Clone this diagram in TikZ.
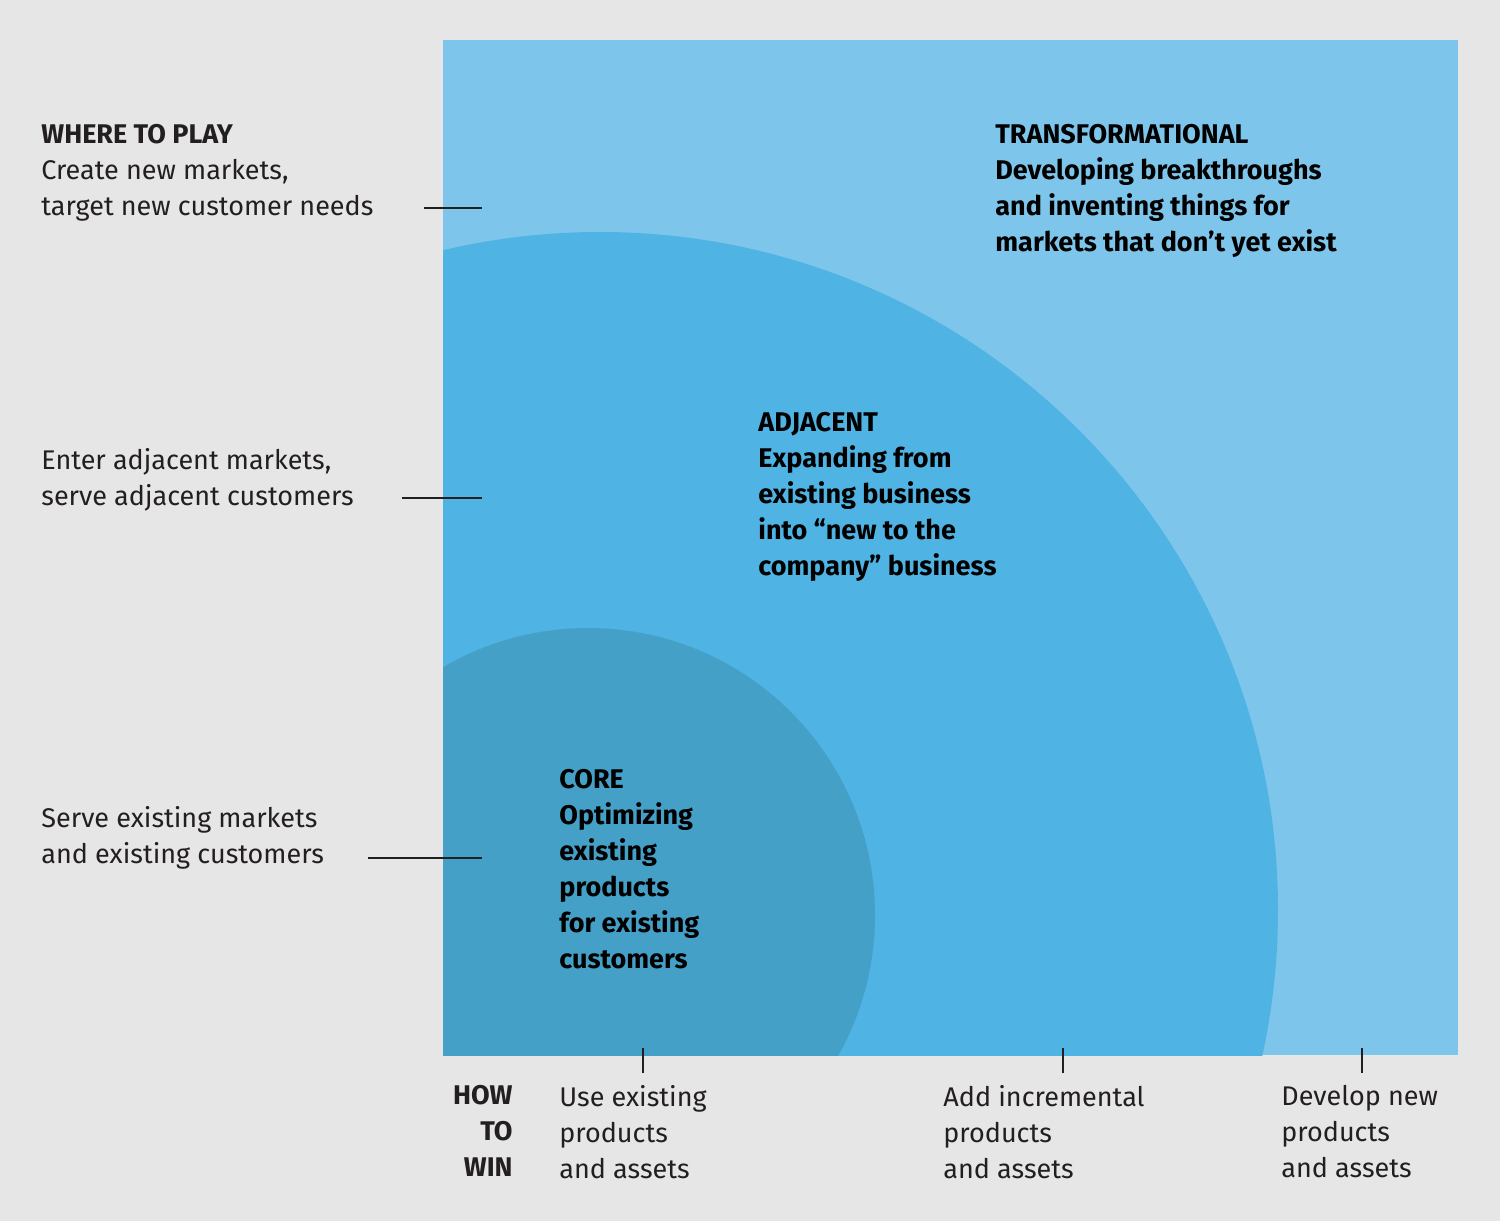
\documentclass[tikz,border=0pt]{standalone}
\usepackage{fontspec}
\setmainfont{Fira Sans}
\definecolor{bg}{HTML}{E6E6E6}
\definecolor{lb}{HTML}{7DC5EA}
\definecolor{mb}{HTML}{4FB3E3}
\definecolor{db}{HTML}{45A0C8}
\definecolor{tx}{HTML}{231F20}
\begin{document}
\begin{tikzpicture}[x=0.5pt,y=-0.5pt,
  lab/.style={anchor=north west,inner sep=0pt,align=left,text=tx,font=\fontsize{13.5pt}{18pt}\selectfont},
  blab/.style={lab,font=\fontsize{13.5pt}{18pt}\selectfont\bfseries,text=black},
  tick/.style={draw=tx,line width=0.6pt}]
\fill[bg] (0,0) rectangle (1500,1221);
\begin{scope}
\clip (443,40) rectangle (1458,1055);
\fill[lb] (443,40) rectangle (1458,1055);
\fill[mb] (600,910) circle[radius=678];
\fill[db] (588,915) circle[radius=287];
\end{scope}
\node[lab] (wp) at (41,124) {\textbf{WHERE TO PLAY}\\Create new markets,\\target new customer needs};
\node[lab] (ad) at (41,448) {Enter adjacent markets,\\serve adjacent customers};
\node[lab] (se) at (41,806) {Serve existing markets\\and existing customers};
\coordinate (t1) at (482,208); \coordinate (t2) at (482,498); \coordinate (t3) at (482,858);
\draw[tick] (424,208) -- (t1);
\draw[tick] (402,498) -- (t2);
\draw[tick] (368,858) -- (t3);
\node[blab] (tr) at (995,124) {TRANSFORMATIONAL\\Developing breakthroughs\\and inventing things for\\markets that don’t yet exist};
\node[blab] (adj) at (758,412) {ADJACENT\\Expanding from\\existing business\\into “new to the\\company” business};
\node[blab] (co) at (559,769) {CORE\\Optimizing\\existing\\products\\for existing\\customers};
\node[blab,anchor=north east,align=right,text=tx] (hw) at (513,1085) {HOW\\TO\\WIN};
\node[lab] (b1) at (559,1085) {Use existing\\products\\and assets};
\node[lab] (b2) at (943,1085) {Add incremental\\products\\and assets};
\node[lab] (b3) at (1281,1085) {Develop new\\products\\and assets};
\coordinate (u1) at (643,1048); \coordinate (u2) at (1063,1048); \coordinate (u3) at (1362,1048);
\draw[tick] (u1) -- ++(0,25);
\draw[tick] (u2) -- ++(0,25);
\draw[tick] (u3) -- ++(0,25);
\end{tikzpicture}
\end{document}
